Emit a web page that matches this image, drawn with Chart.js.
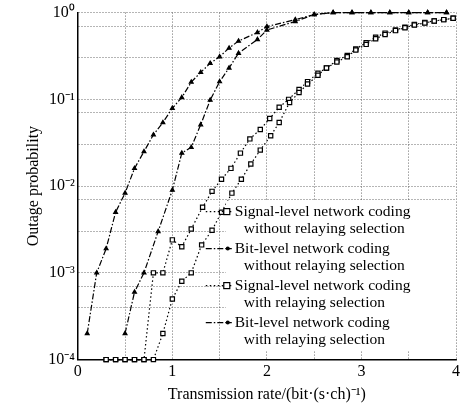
<!DOCTYPE html>
<html><head><meta charset="utf-8">
<script src="https://cdn.jsdelivr.net/npm/chart.js@4/dist/chart.umd.min.js"></script>
<style>html,body{margin:0;background:#fff}#wrap{width:474px;height:408px}</style>
</head><body><div id="wrap"><canvas id="c"></canvas></div>
<script>
// transmission rate (x) and outage probability (y) per curve
const sigNoRelX = [0.3,0.4,0.5,0.6,0.7,0.8,0.9,1.0,1.1,1.2,1.31,1.42,1.52,1.63,1.73,1.83,1.93,2.04,2.13,2.24,2.34,2.43,2.54,2.63,2.74,2.85,2.94,3.05,3.15,3.25,3.36,3.46,3.56,3.67,3.77,3.87,3.97];
const sigNoRelY = [1e-4,1e-4,1e-4,1e-4,1e-4,1e-4,2e-4,5e-4,8e-4,1e-3,2.1e-3,3.1e-3,5e-3,8.3e-3,1.2e-2,1.8e-2,2.6e-2,3.8e-2,5.4e-2,9.2e-2,0.12,0.15,0.19,0.23,0.27,0.31,0.37,0.43,0.5,0.56,0.62,0.67,0.72,0.76,0.8,0.83,0.86];
const sigRelX = [0.3,0.4,0.5,0.6,0.7,0.8,0.9,1.0,1.1,1.2,1.32,1.42,1.52,1.62,1.72,1.82,1.93,2.03,2.13,2.23,2.34,2.43,2.54,2.63,2.74,2.85,2.94,3.05,3.15,3.25,3.36,3.46,3.56,3.67,3.77,3.87,3.97];
const sigRelY = [1e-4,1e-4,1e-4,1e-4,1e-4,1e-3,1e-3,2.4e-3,2e-3,3.2e-3,5.7e-3,8.7e-3,1.2e-2,1.6e-2,2.4e-2,3.5e-2,4.5e-2,6e-2,8.1e-2,0.1,0.13,0.16,0.2,0.23,0.28,0.32,0.38,0.45,0.52,0.58,0.63,0.68,0.73,0.77,0.8,0.83,0.86];
const bitNoRelX = [0.5,0.6,0.7,0.85,1.0,1.1,1.2,1.3,1.4,1.5,1.6,1.7,1.9,2.0,2.3,2.5,2.7,2.9,3.1,3.3,3.5,3.7,3.9];
const bitNoRelY = [2e-4,6e-4,1e-3,3e-3,9e-3,2.4e-2,2.8e-2,5.1e-2,9.8e-2,0.16,0.23,0.34,0.49,0.63,0.79,0.95,1,1,1,1,1,1,1];
const bitRelX = [0.1,0.2,0.3,0.4,0.5,0.6,0.7,0.8,0.9,1.0,1.1,1.2,1.3,1.4,1.5,1.6,1.7,1.9,2.0,2.3,2.5,2.7,2.9,3.1,3.3,3.5,3.7,3.9];
const bitRelY = [2e-4,1e-3,1.9e-3,5e-3,8.3e-3,1.6e-2,2.5e-2,3.9e-2,5.4e-2,7.9e-2,0.105,0.158,0.205,0.26,0.31,0.39,0.47,0.59,0.69,0.83,0.95,1,1,1,1,1,1,1];
const legendLines = [
  ['Signal-level network coding','without relaying selection'],
  ['Bit-level network coding','without relaying selection'],
  ['Signal-level network coding','with relaying selection'],
  ['Bit-level network coding','with relaying selection']
];
const sup = {'0':'⁰','1':'¹','2':'²','3':'³','4':'⁴','-':'⁻'};

const pts = (xs, ys) => xs.map((x, i) => ({ x: x, y: ys[i] }));
const FONT = 'Liberation Serif';
const dotted = [1.5, 2.5], dashDot = [6, 2, 1.5, 2];
const mk = (xs, ys, dash, square) => ({
  data: pts(xs, ys), borderColor: '#000', borderWidth: 1.2, borderDash: dash,
  pointStyle: square ? 'rect' : 'triangle', pointRadius: square ? 3 : 2.2,
  pointBackgroundColor: square ? '#fff' : '#000', pointBorderColor: '#000', pointBorderWidth: 1.2,
  tension: 0, clip: 4
});
const sets = [
  mk(sigNoRelX, sigNoRelY, dotted, true),
  mk(bitNoRelX, bitNoRelY, dashDot, false),
  mk(sigRelX, sigRelY, dotted, true),
  mk(bitRelX, bitRelY, dashDot, false)
];

// two-line legend drawn in the lower right of the plot
const legendPlugin = {
  id: 'legend2',
  afterDatasetsDraw(chart) {
    const ctx = chart.ctx, a = chart.chartArea;
    const x0 = a.left + 128, y0 = a.top + 197;
    ctx.save();
    ctx.fillStyle = '#fff';
    ctx.fillRect(x0 + 20, y0 - 9, a.right - x0 - 21, 150);
    ctx.font = '15.5px ' + FONT;
    ctx.textBaseline = 'middle';
    legendLines.forEach((lines, i) => {
      const y = y0 + 2 + i * 37, ds = sets[i];
      ctx.strokeStyle = '#000'; ctx.lineWidth = 1.2; ctx.setLineDash(ds.borderDash);
      ctx.beginPath(); ctx.moveTo(x0, y); ctx.lineTo(x0 + 26, y); ctx.stroke();
      ctx.setLineDash([]);
      if (ds.pointStyle === 'rect') { ctx.fillStyle = '#fff'; ctx.fillRect(x0 + 18, y - 3, 6, 6); ctx.strokeRect(x0 + 18, y - 3, 6, 6); }
      else { ctx.fillStyle = '#000'; ctx.beginPath(); ctx.arc(x0 + 22, y, 2, 0, 7); ctx.fill(); }
      ctx.fillStyle = '#000';
      ctx.fillText(lines[0], x0 + 29, y);
      ctx.fillText(lines[1], x0 + 38, y + 17);
    });
    ctx.restore();
  }
};

new Chart(document.getElementById('c'), {
  type: 'line',
  data: { datasets: sets },
  plugins: [legendPlugin],
  options: {
    responsive: true, maintainAspectRatio: false, animation: false,
    layout: { padding: { right: 18, top: 12, left: 22, bottom: 4 } },
    plugins: { legend: { display: false }, tooltip: { enabled: false } },
    scales: {
      x: {
        type: 'linear', min: 0, max: 4,
        ticks: { stepSize: 0.5, color: '#000', font: { family: FONT, size: 16 },
          callback: v => Number.isInteger(v) ? String(v) : '' },
        grid: { color: '#444', lineWidth: 0.8, drawTicks: false },
        border: { color: '#000', width: 1.5, dash: [1, 2] },
        title: { display: true, text: 'Transmission rate/(bit·(s·ch)⁻¹)', color: '#000', font: { family: FONT, size: 16 }, padding: 0 }
      },
      y: {
        type: 'logarithmic', min: 1e-4, max: 1,
        ticks: { color: '#000', font: { family: FONT, size: 16 },
          callback: v => { const e = Math.log10(v); return Math.abs(e - Math.round(e)) < 1e-9 ? '10' + String(Math.round(e)).split('').map(c => sup[c]).join('') : ''; } },
        grid: { color: '#444', lineWidth: 0.8, drawTicks: false },
        border: { color: '#000', width: 1.5, dash: [1, 2] },
        title: { display: true, text: 'Outage probability', color: '#000', font: { family: FONT, size: 16 }, padding: 2 }
      }
    }
  }
});
</script></body></html>
